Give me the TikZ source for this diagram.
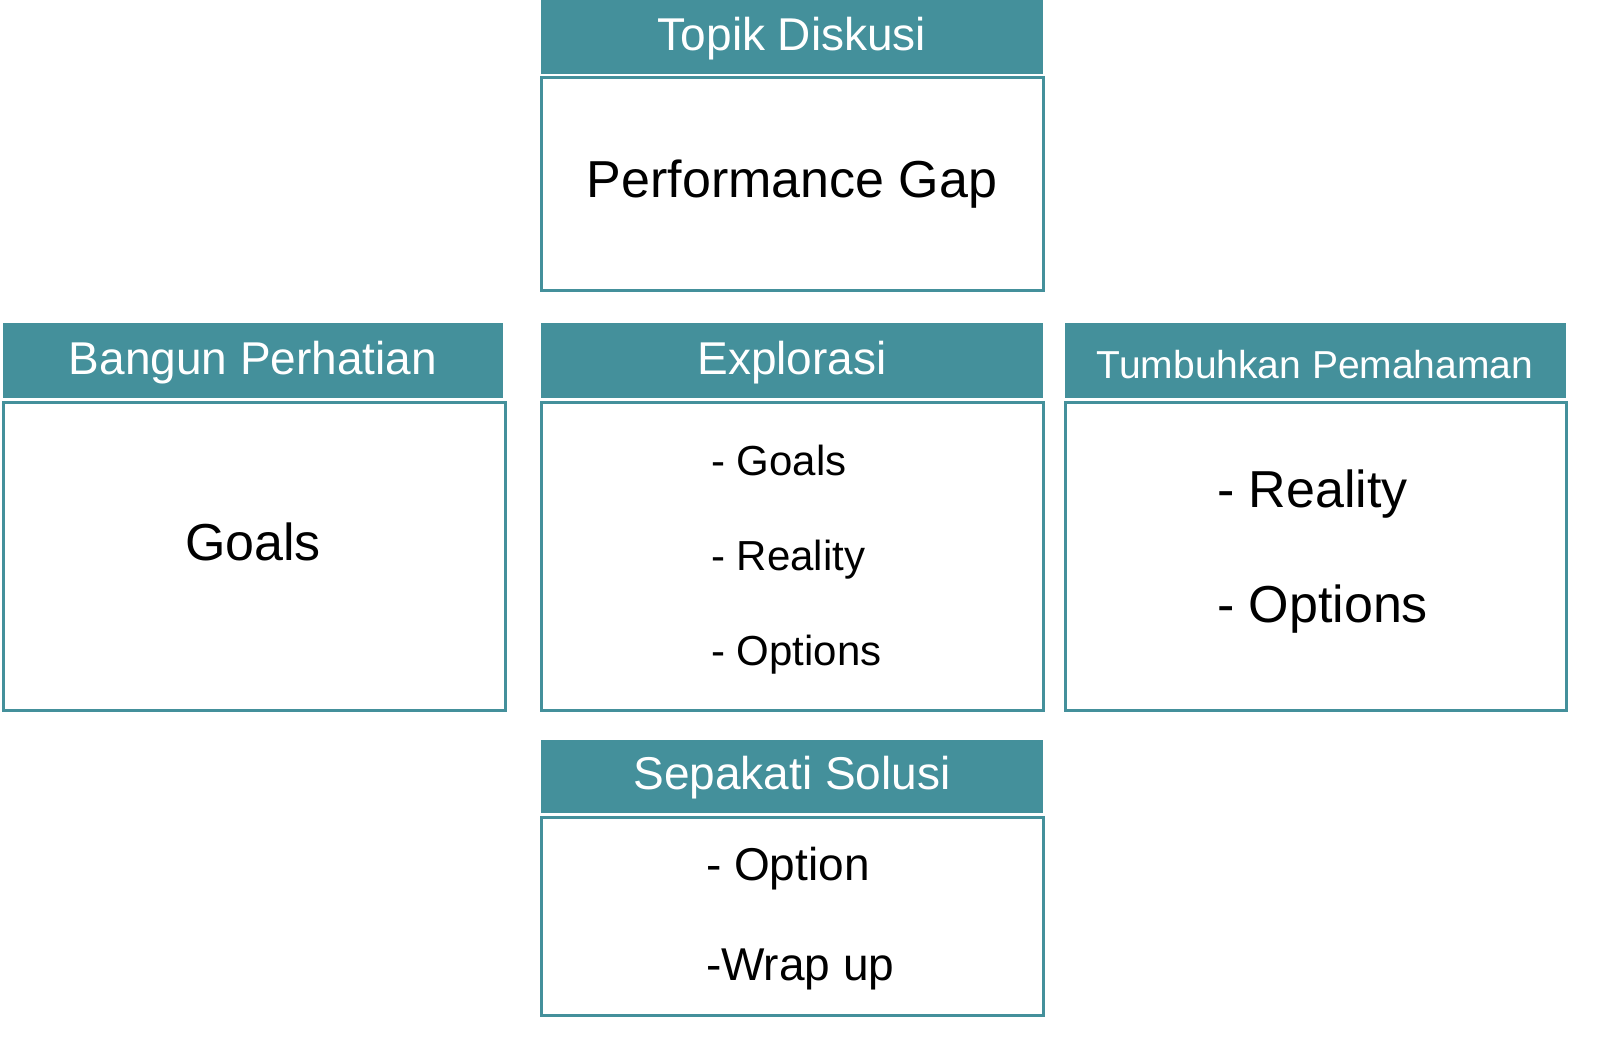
\documentclass[tikz,border=0pt]{standalone}
\usepackage{fontspec}
\setmainfont{Liberation Sans}
\definecolor{teal1}{HTML}{44909B}
\begin{document}
\begin{tikzpicture}[x=0.5pt,y=-0.5pt,
 big/.style={font=\fontsize{26}{30}\selectfont},
 bodybox/.style={draw=teal1,line width=1.5pt,fill=white},
 mid/.style={font=\fontsize{21}{25}\selectfont,anchor=base west}]
% top
\fill[teal1] (541,0) rectangle (1043,74);
\node[text=white,font=\fontsize{23}{27}\selectfont] (h1) at (792,39) {Topik Diskusi};
\draw[bodybox] (541,78) rectangle (1043,290);
\node[big] (b1) at (792,184) {Performance Gap};
% left
\fill[teal1] (3,323) rectangle (503,398);
\node[text=white,font=\fontsize{23}{27}\selectfont] (h2) at (253,363) {Bangun Perhatian};
\draw[bodybox] (3,402) rectangle (505,710);
\node[big] (b2) at (253,542) {Goals};
% center
\fill[teal1] (541,323) rectangle (1043,398);
\node[text=white,font=\fontsize{23}{27}\selectfont] (h3) at (792,363) {Explorasi};
\draw[bodybox] (541,402) rectangle (1043,710);
\node[mid] (c1) at (704,475) {- Goals};
\node[mid] (c2) at (704,570) {- Reality};
\node[mid] (c3) at (704,665) {- Options};
% right
\fill[teal1] (1065,323) rectangle (1566,398);
\node[text=white,font=\fontsize{19.5}{23}\selectfont] (h4) at (1315,365) {Tumbuhkan Pemahaman};
\draw[bodybox] (1065,402) rectangle (1566,710);
\node[big,anchor=base west] (r1) at (1210,507) {- Reality};
\node[big,anchor=base west] (r2) at (1210,622) {- Options};
% bottom
\fill[teal1] (541,740) rectangle (1043,813);
\node[text=white,font=\fontsize{23}{27}\selectfont] (h5) at (792,778) {Sepakati Solusi};
\draw[bodybox] (541,817) rectangle (1043,1015);
\node[mid,font=\fontsize{23}{27}\selectfont] (s1) at (699,880) {- Option};
\node[mid,font=\fontsize{23}{27}\selectfont] (s2) at (699,980) {-Wrap up};
\pgfresetboundingbox
\path[use as bounding box] (0,0) rectangle (1600,1038);
\end{tikzpicture}
\end{document}
